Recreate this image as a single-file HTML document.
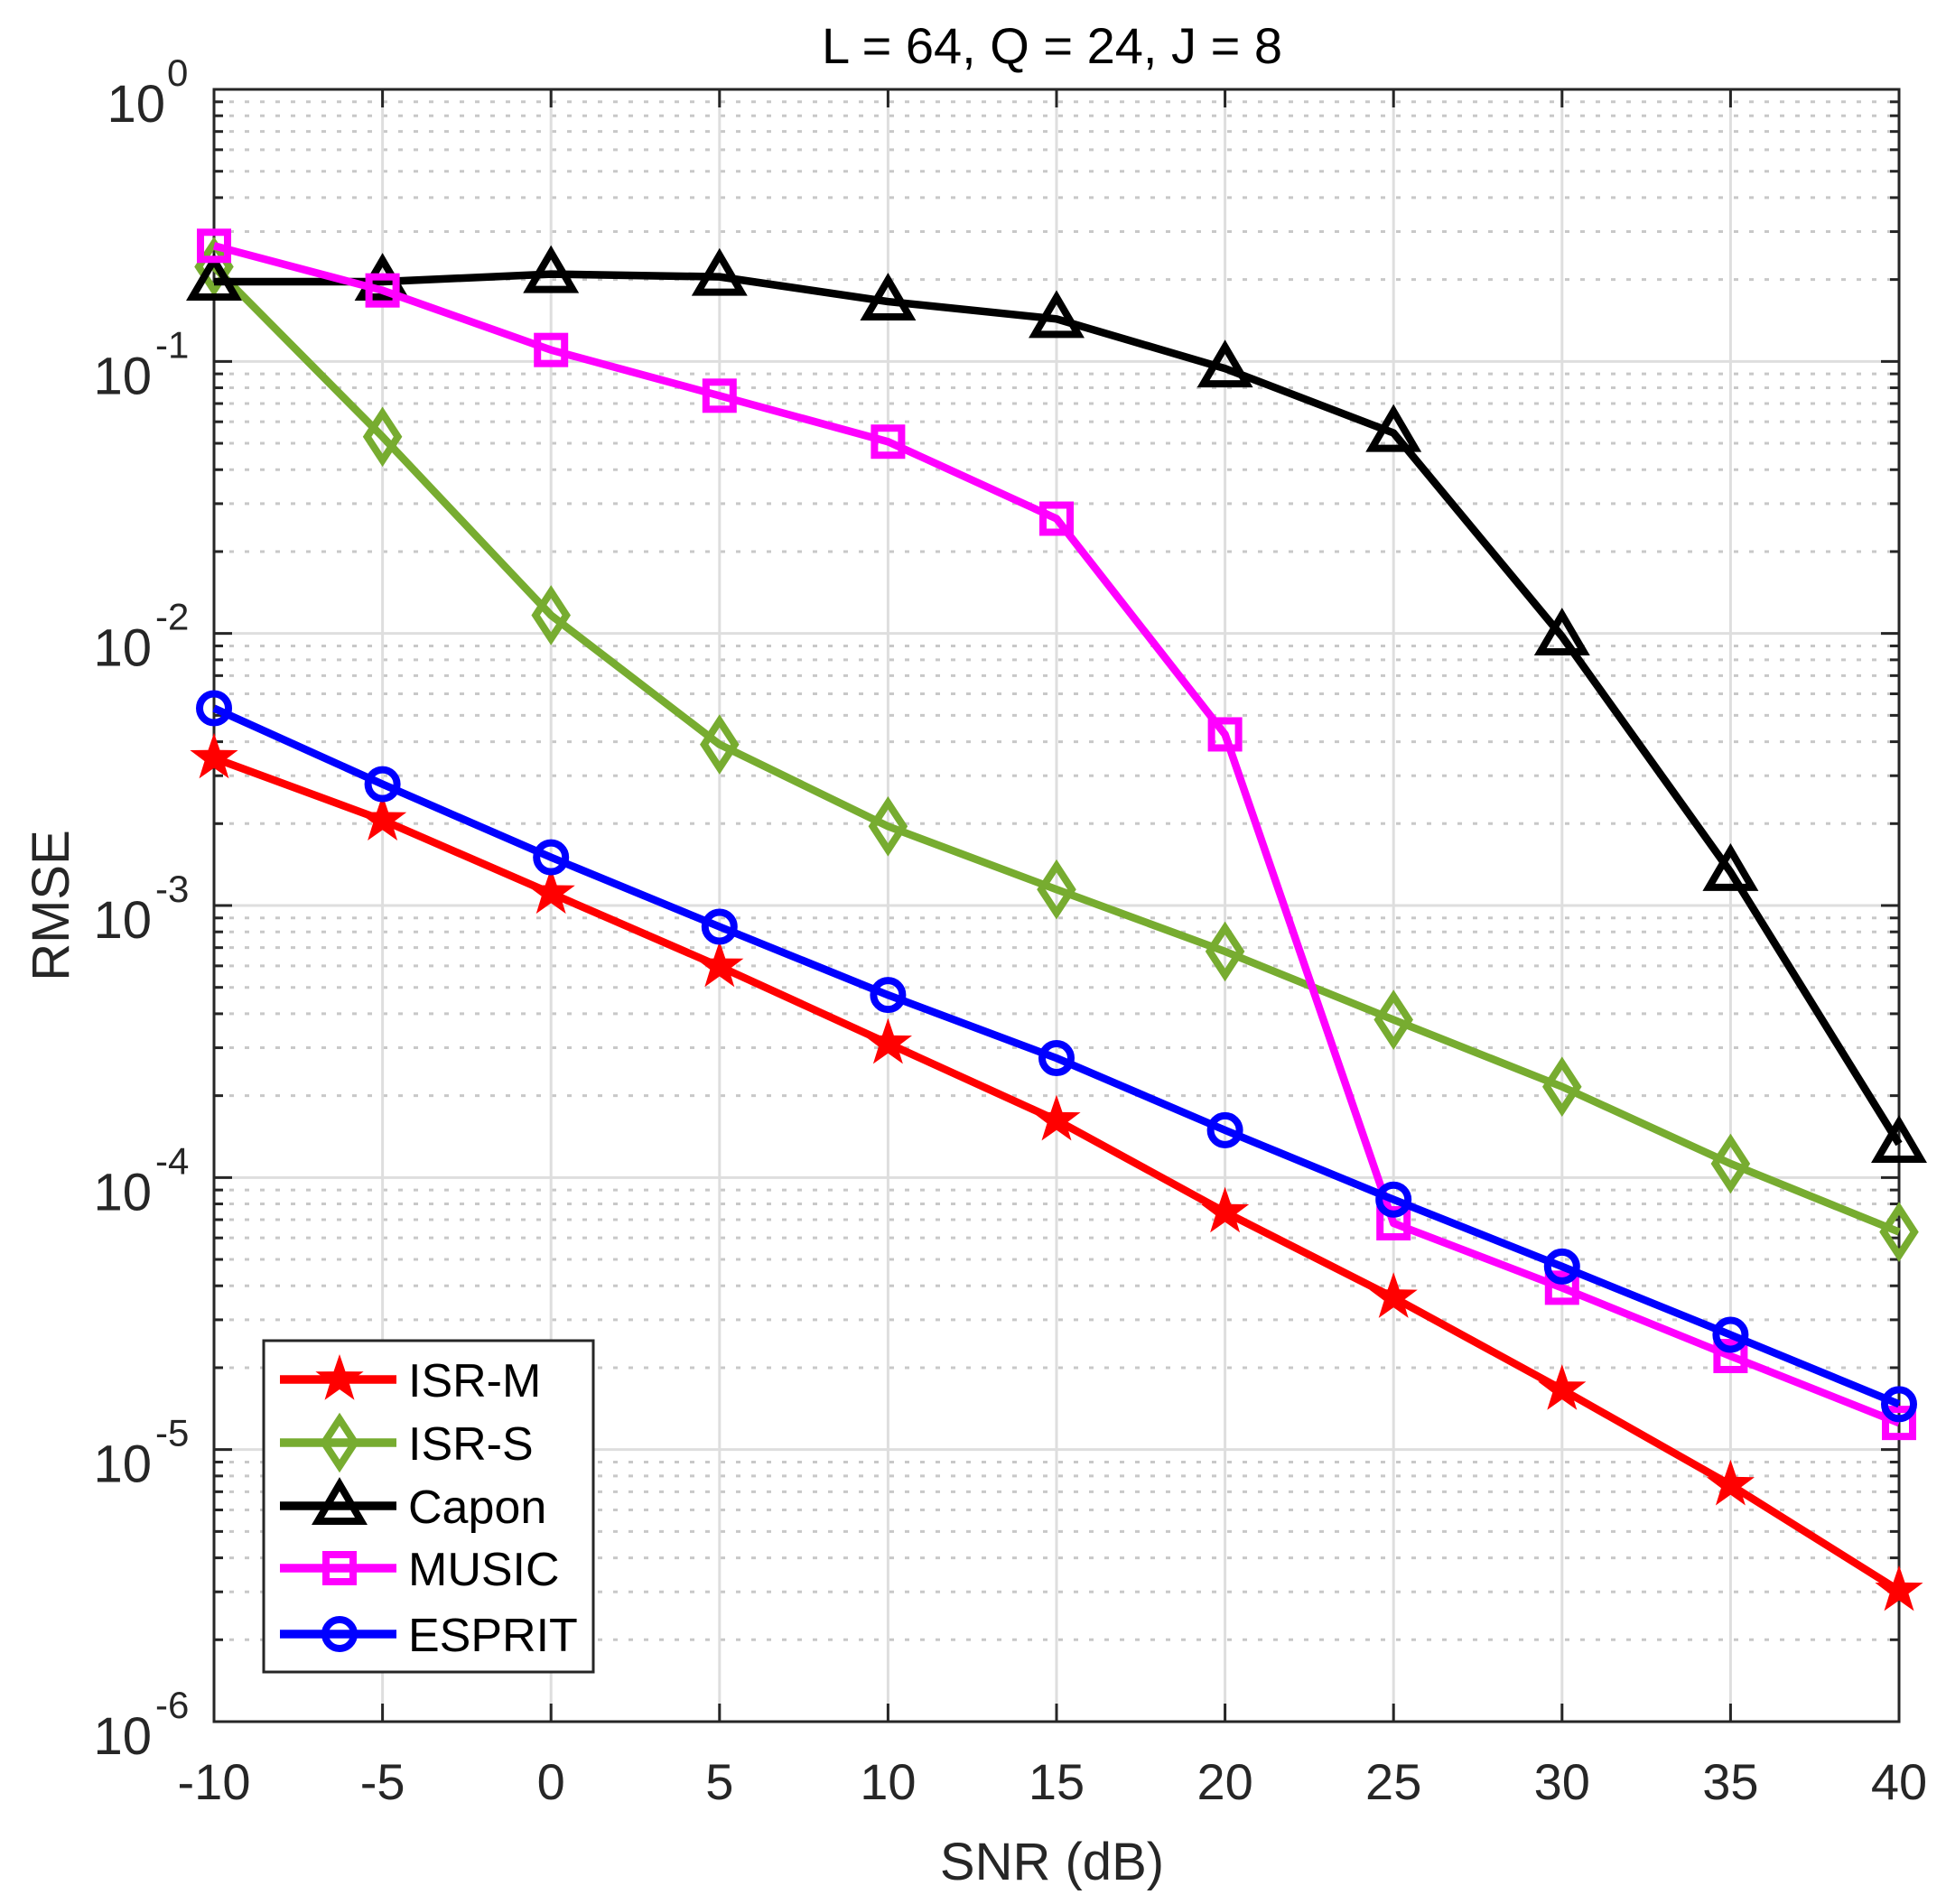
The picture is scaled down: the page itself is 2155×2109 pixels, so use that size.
<!DOCTYPE html><html><head><style>body{margin:0;background:#fff}svg{display:block}text{font-family:"Liberation Sans",Arial,sans-serif}</style></head><body>
<svg id="s" width="2155" height="2109" xmlns="http://www.w3.org/2000/svg"></svg>
<script>
const L=237,R=2103,T=99,B=1907;
const X=v=>L+(v+10)*(R-L)/50, Y=lv=>T+(-lv)*(B-T)/6;
let h='<rect width="2155" height="2109" fill="#fff"/>';
for(let d=0;d<6;d++)for(let k=2;k<=9;k++){const y=Y(-d-1+Math.log10(k));h+=`<line x1="${L}" x2="${R}" y1="${y}" y2="${y}" stroke="#c8c8c8" stroke-width="3" stroke-dasharray="5 12"/>`;}
for(let d=1;d<6;d++){const y=Y(-d);h+=`<line x1="${L}" x2="${R}" y1="${y}" y2="${y}" stroke="#dedede" stroke-width="3"/>`;}
for(let v=-5;v<40;v+=5){const x=X(v);h+=`<line x1="${x}" x2="${x}" y1="${T}" y2="${B}" stroke="#dedede" stroke-width="3"/>`;}
for(let v=-10;v<=40;v+=5){const x=X(v);h+=`<line x1="${x}" x2="${x}" y1="${B}" y2="${B-20}" stroke="#262626" stroke-width="3"/><line x1="${x}" x2="${x}" y1="${T}" y2="${T+20}" stroke="#262626" stroke-width="3"/><text x="${x}" y="1993" font-size="56" text-anchor="middle" fill="#262626">${v}</text>`;}
for(let d=0;d<=6;d++){const y=Y(-d);h+=`<line x1="${L}" x2="${L+20}" y1="${y}" y2="${y}" stroke="#262626" stroke-width="3"/><line x1="${R}" x2="${R-20}" y1="${y}" y2="${y}" stroke="#262626" stroke-width="3"/><text x="${d?168:183}" y="${y+36}" font-size="58" text-anchor="end" fill="#262626">10</text><text x="${d?172:185}" y="${y-4}" font-size="42" fill="#262626">${d?'-'+d:'0'}</text>`;
 if(d<6)for(let k=2;k<=9;k++){const yy=Y(-d-1+Math.log10(k));h+=`<line x1="${L}" x2="${L+10}" y1="${yy}" y2="${yy}" stroke="#262626" stroke-width="3"/><line x1="${R}" x2="${R-10}" y1="${yy}" y2="${yy}" stroke="#262626" stroke-width="3"/>`;}}
h+=`<rect x="${L}" y="${T}" width="${R-L}" height="${B-T}" fill="none" stroke="#262626" stroke-width="3"/>`;
h+=`<text x="1165" y="70" font-size="56" text-anchor="middle" fill="#000">L = 64, Q = 24, J = 8</text>`;
h+=`<text x="1165" y="2082" font-size="58" text-anchor="middle" fill="#262626">SNR (dB)</text>`;
h+=`<text transform="translate(76,1003) rotate(-90)" font-size="58" text-anchor="middle" fill="#262626">RMSE</text>`;
function mk(t,x,y,c){
 if(t=='star'){let p=[];for(let i=0;i<10;i++){const r=i%2?11:28,a=-Math.PI/2+i*Math.PI/5;p.push((x+r*Math.cos(a)).toFixed(1)+','+(y+r*Math.sin(a)).toFixed(1));}return `<polygon points="${p}" fill="${c}"/>`;}
 if(t=='dia')return `<polygon points="${x},${y-26} ${x+17},${y} ${x},${y+26} ${x-17},${y}" fill="none" stroke="${c}" stroke-width="8"/>`;
 if(t=='tri')return `<polygon points="${x},${y-24} ${x+24},${y+17} ${x-24},${y+17}" fill="none" stroke="${c}" stroke-width="8"/>`;
 if(t=='sq')return `<rect x="${x-15}" y="${y-15}" width="30" height="30" fill="none" stroke="${c}" stroke-width="8"/>`;
 return `<circle cx="${x}" cy="${y}" r="16" fill="none" stroke="${c}" stroke-width="8"/>`;}
const S=[
['ISR-M','#ff0000','star',[-2.458,-2.686,-2.955,-3.224,-3.507,-3.789,-4.127,-4.441,-4.779,-5.130,-5.518]],
['ISR-S','#77ac30','dia',[-0.652,-1.277,-1.933,-2.408,-2.709,-2.941,-3.169,-3.420,-3.666,-3.949,-4.200]],
['Capon','#000000','tri',[-0.707,-0.707,-0.679,-0.689,-0.780,-0.844,-1.026,-1.263,-2.011,-2.877,-3.876]],
['MUSIC','#ff00ff','sq',[-0.575,-0.739,-0.958,-1.126,-1.295,-1.578,-2.371,-4.168,-4.405,-4.656,-4.902]],
['ESPRIT','#0000ff','ci',[-2.275,-2.554,-2.823,-3.078,-3.329,-3.561,-3.826,-4.081,-4.327,-4.578,-4.833]]];
for(const s of S){const pts=s[3].map((v,i)=>[X(-10+5*i),Y(v)]);h+=`<polyline points="${pts.map(p=>p.join(',')).join(' ')}" fill="none" stroke="${s[1]}" stroke-width="8.5" stroke-linejoin="round"/>`;for(const p of pts)h+=mk(s[2],p[0],p[1],s[1]);}
h+=`<rect x="292" y="1485" width="365" height="367" fill="#fff" stroke="#262626" stroke-width="3"/>`;
[1528,1598,1668,1737,1810].forEach((y,i)=>{const s=S[i];h+=`<line x1="310" x2="439" y1="${y}" y2="${y}" stroke="${s[1]}" stroke-width="9.5"/>`+mk(s[2],376,y,s[1])+`<text x="452" y="${y+19}" font-size="52" fill="#000">${s[0]}</text>`;});
document.getElementById('s').innerHTML=h;
</script></body></html>
